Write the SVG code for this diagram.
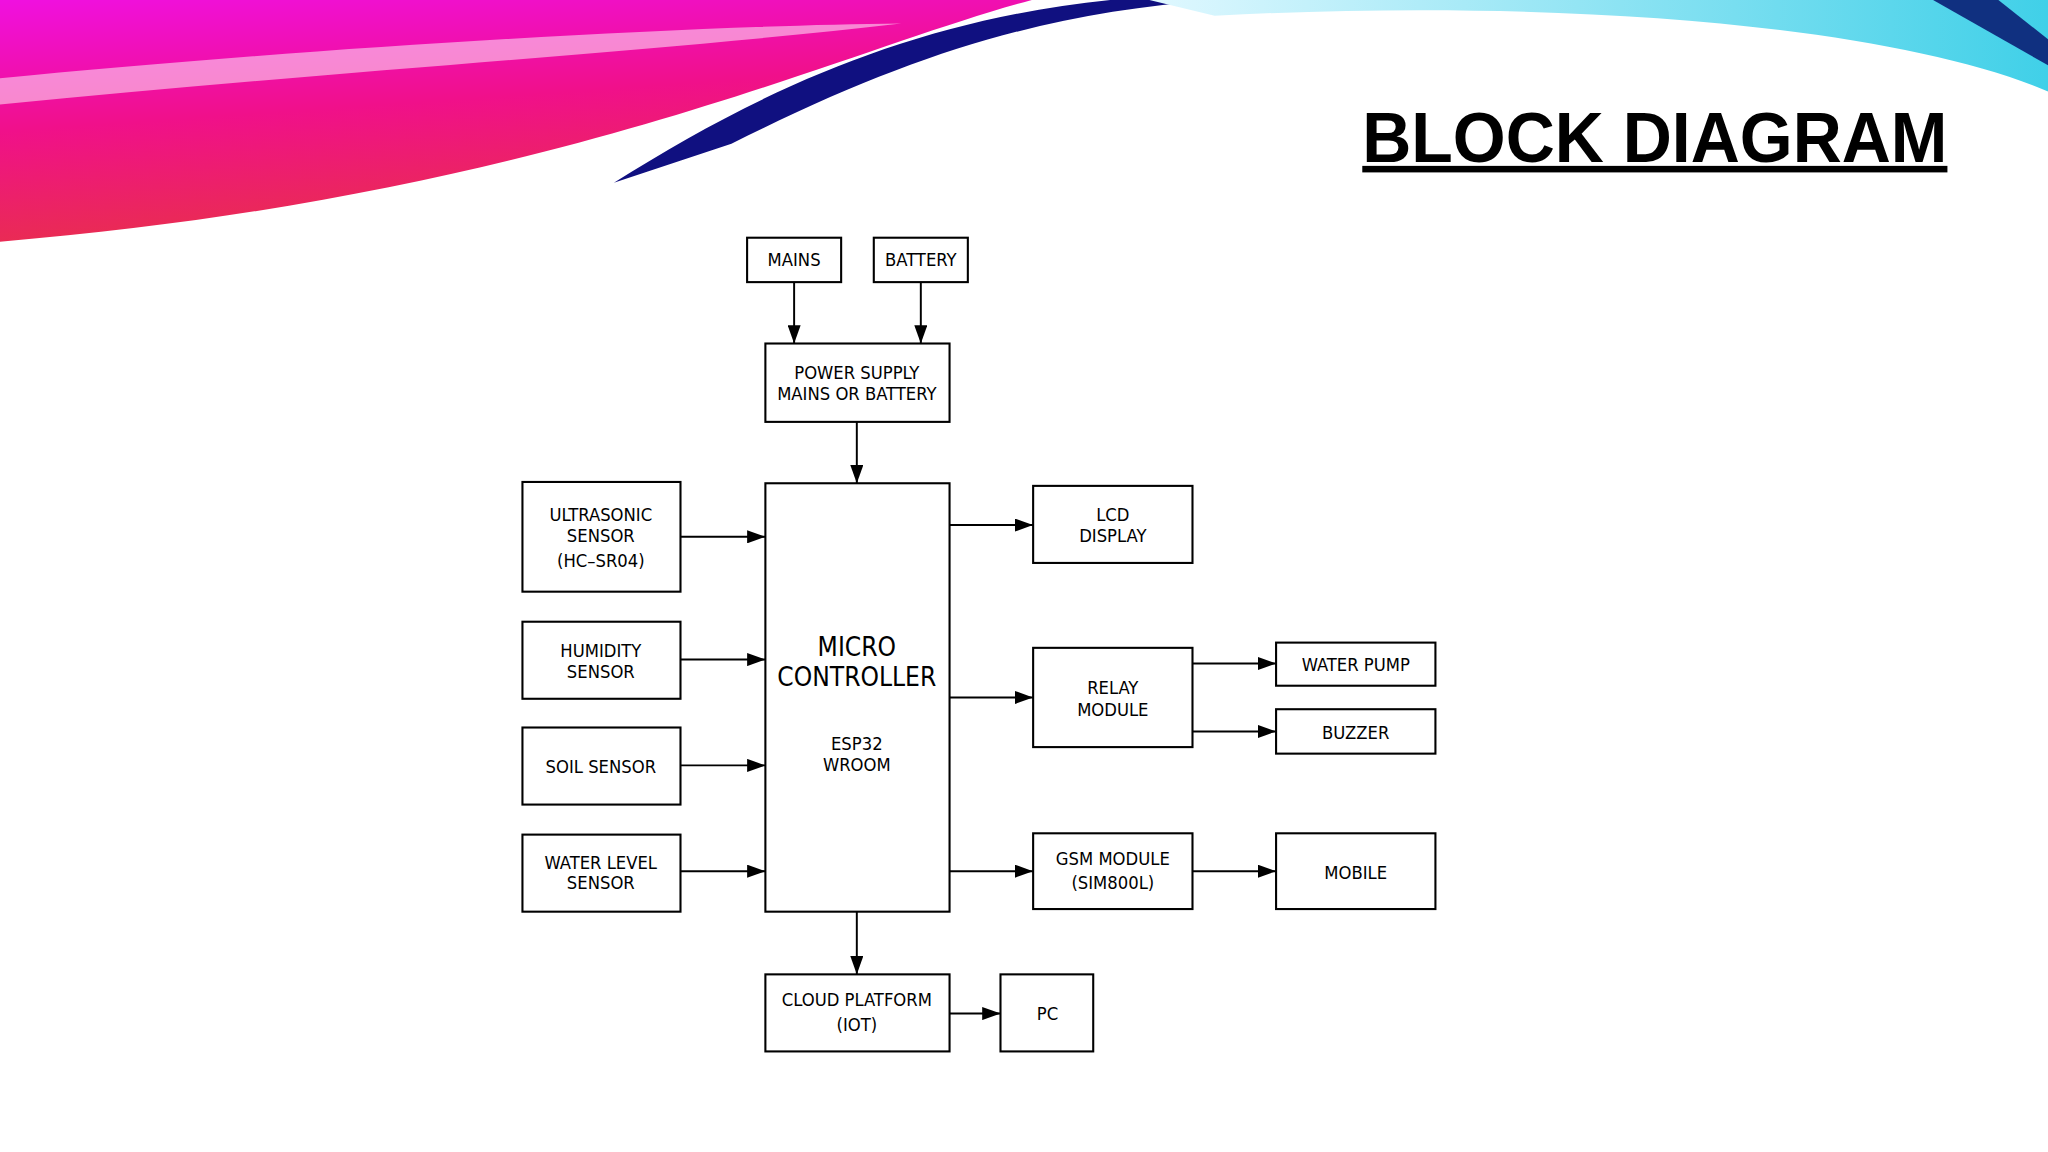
<svg xmlns="http://www.w3.org/2000/svg" width="2048" height="1152" viewBox="0 0 2048 1152">
<defs>
<linearGradient id="pk" x1="0" y1="0" x2="0.3" y2="1"><stop offset="0" stop-color="#f010e0"/><stop offset="0.5" stop-color="#f0108a"/><stop offset="1" stop-color="#e8304a"/></linearGradient>
<linearGradient id="cy" x1="0" y1="0" x2="1" y2="0"><stop offset="0" stop-color="#e0f8ff"/><stop offset="1" stop-color="#40d0e8"/></linearGradient>
<marker id="ah" markerWidth="14" markerHeight="10" refX="14" refY="5" orient="auto" markerUnits="userSpaceOnUse"><path d="M0,0 L14,5 L0,10 Z" fill="#000"/></marker>
<style>
.b{fill:#fff;stroke:#000;stroke-width:1.6}
.t{font-family:"DejaVu Sans Condensed","Liberation Sans",sans-serif;font-size:14px;text-anchor:middle;fill:#000}
.big{font-size:20px}
.c line{stroke:#000;stroke-width:1.5;marker-end:url(#ah)}
</style>
</defs>
<rect width="2048" height="1152" fill="#fff"/>
<g transform="scale(1.30612)">
<path d="M0,0 L790,0 C640,40 420,150 0,185 Z" fill="url(#pk)"/>
<path d="M0,60 C200,40 500,20 690,18 C500,40 250,55 0,80 Z" fill="#fff" opacity="0.5"/>
<path d="M470,140 C580,70 700,15 850,0 L930,0 C800,10 700,40 560,110 Z" fill="#101080"/>
<path d="M880,0 L1568,0 L1568,70 C1450,20 1200,-2 930,12 Z" fill="url(#cy)"/>
<path d="M1480,0 L1530,0 L1568,30 L1568,50 Z" fill="#103080"/>
<text x="1043" y="124" font-family="Liberation Sans,sans-serif" font-weight="bold" font-size="54" textLength="448" lengthAdjust="spacingAndGlyphs">BLOCK DIAGRAM</text>
<rect x="1043" y="127" width="448" height="5" fill="#000"/>

<g class="c">
<line x1="608" y1="216" x2="608" y2="263"/>
<line x1="705" y1="216" x2="705" y2="263"/>
<line x1="656" y1="323" x2="656" y2="370"/>
<line x1="521" y1="411" x2="586" y2="411"/>
<line x1="521" y1="505" x2="586" y2="505"/>
<line x1="521" y1="586" x2="586" y2="586"/>
<line x1="521" y1="667" x2="586" y2="667"/>
<line x1="727" y1="402" x2="791" y2="402"/>
<line x1="727" y1="534" x2="791" y2="534"/>
<line x1="727" y1="667" x2="791" y2="667"/>
<line x1="913" y1="508" x2="977" y2="508"/>
<line x1="913" y1="560" x2="977" y2="560"/>
<line x1="913" y1="667" x2="977" y2="667"/>
<line x1="656" y1="698" x2="656" y2="746"/>
<line x1="727" y1="776" x2="766" y2="776"/>
</g>

<g id="mains"><rect class="b" x="572" y="182" width="72" height="34"/><text class="t" x="608" y="204">MAINS</text></g>
<g id="battery"><rect class="b" x="669" y="182" width="72" height="34"/><text class="t" x="705" y="204">BATTERY</text></g>
<g id="power"><rect class="b" x="586" y="263" width="141" height="60"/><text class="t" x="656" y="290">POWER SUPPLY</text><text class="t" x="656" y="306">MAINS OR BATTERY</text></g>
<g id="mcu"><rect class="b" x="586" y="370" width="141" height="328"/><text class="t big" x="656" y="502">MICRO</text><text class="t big" x="656" y="525">CONTROLLER</text><text class="t" x="656" y="574">ESP32</text><text class="t" x="656" y="590">WROOM</text></g>
<g id="ultra"><rect class="b" x="400" y="369" width="121" height="84"/><text class="t" x="460" y="399">ULTRASONIC</text><text class="t" x="460" y="415">SENSOR</text><text class="t" x="460" y="434">(HC–SR04)</text></g>
<g id="hum"><rect class="b" x="400" y="476" width="121" height="59"/><text class="t" x="460" y="503">HUMIDITY</text><text class="t" x="460" y="519">SENSOR</text></g>
<g id="soil"><rect class="b" x="400" y="557" width="121" height="59"/><text class="t" x="460" y="592">SOIL SENSOR</text></g>
<g id="wl"><rect class="b" x="400" y="639" width="121" height="59"/><text class="t" x="460" y="665">WATER LEVEL</text><text class="t" x="460" y="681">SENSOR</text></g>
<g id="lcd"><rect class="b" x="791" y="372" width="122" height="59"/><text class="t" x="852" y="399">LCD</text><text class="t" x="852" y="415">DISPLAY</text></g>
<g id="relay"><rect class="b" x="791" y="496" width="122" height="76"/><text class="t" x="852" y="531">RELAY</text><text class="t" x="852" y="548">MODULE</text></g>
<g id="gsm"><rect class="b" x="791" y="638" width="122" height="58"/><text class="t" x="852" y="662">GSM MODULE</text><text class="t" x="852" y="681">(SIM800L)</text></g>
<g id="pump"><rect class="b" x="977" y="492" width="122" height="33"/><text class="t" x="1038" y="514">WATER PUMP</text></g>
<g id="buzzer"><rect class="b" x="977" y="543" width="122" height="34"/><text class="t" x="1038" y="566">BUZZER</text></g>
<g id="mobile"><rect class="b" x="977" y="638" width="122" height="58"/><text class="t" x="1038" y="673">MOBILE</text></g>
<g id="cloud"><rect class="b" x="586" y="746" width="141" height="59"/><text class="t" x="656" y="770">CLOUD PLATFORM</text><text class="t" x="656" y="789">(IOT)</text></g>
<g id="pc"><rect class="b" x="766" y="746" width="71" height="59"/><text class="t" x="802" y="781">PC</text></g>
</g>
</svg>
